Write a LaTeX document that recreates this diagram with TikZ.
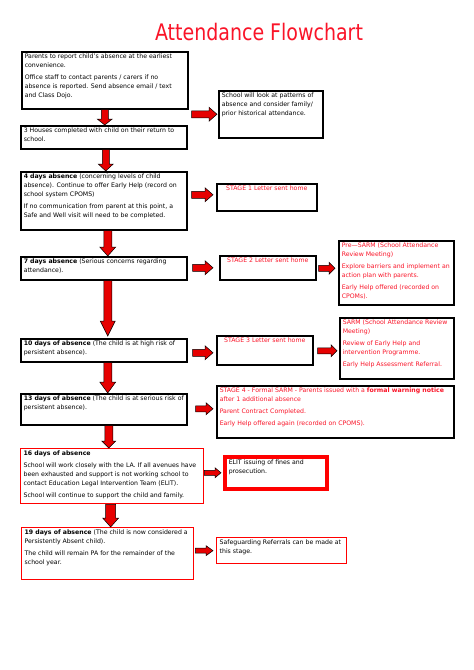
\documentclass[tikz,border=0pt]{standalone}
\usepackage{fontspec}
\setmainfont{DejaVu Sans}
\usetikzlibrary{calc}
\definecolor{ared}{RGB}{230,0,0}
\definecolor{tred}{RGB}{250,20,40}
\newcommand\bodyfont{\fontsize{6.2}{9}\selectfont}
\tikzset{
 box/.style={draw=black, line width=1.5pt, fill=white, anchor=north west, inner xsep=3pt, inner ysep=2pt, font=\bodyfont},
 rbox/.style={box, draw=red, line width=1.3pt},
 ebox/.style={box, draw=red, line width=3.5pt},
 stext/.style={text=tred},
 blockarr/.style={fill=ared, draw=black, line width=0.5pt, line join=miter},
}
% box: [style] name x y w h content
\newcommand\bx[7][]{\node[box,#1] (#2) at (#3,#4) {\parbox[t][\dimexpr#6pt-4pt\relax][t]{\dimexpr#5pt-6pt\relax}{\setlength\parindent{0pt}\setlength\parskip{3pt}\raggedright #7}};}
% horizontal block arrow: from, to, shaft half, head half, head length
\newcommand\harr[5]{\path let \p1=(#1), \p2=(#2) in
  [blockarr] (\x1,\y2+#3pt) -- (\x2-#5pt,\y2+#3pt) -- (\x2-#5pt,\y2+#4pt) -- (\x2,\y2)
  -- (\x2-#5pt,\y2-#4pt) -- (\x2-#5pt,\y2-#3pt) -- (\x1,\y2-#3pt) -- cycle;}
% vertical block arrow (downward)
\newcommand\varr[5]{\path let \p1=(#1), \p2=(#2) in
  [blockarr] (\x1-#3pt,\y1) -- (\x1-#3pt,\y2+#5pt) -- (\x1-#4pt,\y2+#5pt) -- (\x1,\y2)
  -- (\x1+#4pt,\y2+#5pt) -- (\x1+#3pt,\y2+#5pt) -- (\x1+#3pt,\y1) -- cycle;}
\begin{document}
\begin{tikzpicture}[x=1pt,y=-1pt]
\useasboundingbox[fill=white] (0,0) rectangle (474,670);
\node[text=tred, font=\fontsize{19}{22}\selectfont] (title) at (259,31.5) {\scalebox{1}[1.2]{Attendance Flowchart}};

\bx{b1}{21}{51}{166}{57}{Parents to report child's absence at the earliest\\ convenience.\par
Office staff to contact parents / carers if no\\ absence is reported. Send absence email / text\\ and Class Dojo.}
\bx{b2}{218}{90}{104}{47}{School will look at patterns of\\ absence and consider family/\\ prior historical attendance.}
\bx{b3}{20}{125}{166}{23}{3 Houses completed with child on their return to\\ school.}
\bx{b4}{20}{171}{166}{58}{\textbf{4 days absence} (concerning levels of child\\ absence). Continue to offer Early Help (record on\\ school system CPOMS)\par
If no communication from parent at this point, a\\ Safe and Well visit will need to be completed.}
\bx[stext]{s1}{216}{183}{100}{27}{\centering STAGE 1 Letter sent home}
\bx{b7}{20}{256}{166}{23}{\textbf{7 days absence} (Serious concerns regarding\\ attendance).}
\bx[stext]{s2}{219}{255}{96}{24}{\centering STAGE 2 Letter sent home}
\bx[stext]{pre}{338}{240}{115}{64}{Pre---SARM (School Attendance\\ Review Meeting)\par
Explore barriers and implement an\\ action plan with parents.\par
Early Help offered (recorded on\\ CPOMs).}
\bx{b10}{20}{338}{166}{23}{\textbf{10 days of absence} (The child is at high risk of\\ persistent absence).}
\bx[stext]{s3}{216}{335}{96}{29}{\centering STAGE 3 Letter sent home}
\bx[stext]{sarm}{339}{317}{114}{61}{SARM (School Attendance Review\\ Meeting)\par
Review of Early Help and\\ intervention Programme.\par
Early Help Assessment Referral.}
\bx{b13}{20}{393}{166}{31}{\textbf{13 days of absence} (The child is at serious risk of\\ persistent absence).}
\bx[stext]{s4}{216}{385}{237}{52}{STAGE 4 - Formal SARM - Parents issued with a \textbf{formal warning notice}\\ after 1 additional absence\par
Parent Contract Completed.\par
Early Help offered again (recorded on CPOMS).}
\bx[rbox]{b16}{20}{448}{183}{55}{\textbf{16 days of absence}\par
School will work closely with the LA. If all avenues have\\ been exhausted and support is not working school to\\ contact Education Legal Intervention Team (ELIT).\par
School will continue to support the child and family.}
\bx[ebox,inner xsep=4pt,inner ysep=3pt]{elit}{223}{455}{100}{30}{ELIT issuing of fines and\\ prosecution.}
\bx[rbox]{b19}{21}{527}{172}{52}{\textbf{19 days of absence} (The child is now considered a\\ Persistently Absent child).\par
The child will remain PA for the remainder of the\\ school year.}
\bx[rbox]{safe}{216}{537}{130}{26}{Safeguarding Referrals can be made at\\ this stage.}

% connectors
\harr{$(b1.east)+(3,0)$}{$(b2.west)+(-1,0)$}{3.5}{7}{8}
\varr{b1.south}{b3.north}{3.5}{7.5}{6}
\varr{$(b3.south)+(2,0)$}{b4.north}{3.5}{7.5}{7}
\harr{$(b4.east)+(4,0)$}{$(s1.west)+(-3,-2.5)$}{3.5}{7}{8}
\varr{$(b4.south)+(4,0)$}{b7.north}{4}{8}{9}
\harr{$(b7.east)+(5,0)$}{$(s2.west)+(-6,0)$}{3.5}{7}{8}
\harr{$(s2.east)+(2,0)$}{$(pre.west)+(-3,-4.5)$}{3}{6}{6}
\varr{$(b7.south)+(4,0)$}{$(b10.north)+(0,-2)$}{4}{7.5}{15}
\harr{$(b10.east)+(5,0)$}{$(s3.west)+(-3,2.5)$}{3.5}{7}{8}
\harr{$(s3.east)+(4,0)$}{$(sarm.west)+(-2,2.5)$}{3}{6}{6}
\varr{$(b10.south)+(4,0)$}{b13.north}{4}{8}{11}
\harr{$(b13.east)+(8,0)$}{$(s4.west)+(-3,-3)$}{3}{6}{7}
\varr{$(b13.south)+(5,0)$}{b16.north}{4}{7}{7}
\harr{b16.east}{$(elit.west)+(-2,0)$}{2.5}{5}{6}
\varr{$(b16.south)+(-1.5,0)$}{b19.north}{5}{8}{9}
\harr{$(b19.east)+(1,0)$}{$(safe.west)+(-3,0)$}{2.5}{5}{7}
\end{tikzpicture}
\end{document}
